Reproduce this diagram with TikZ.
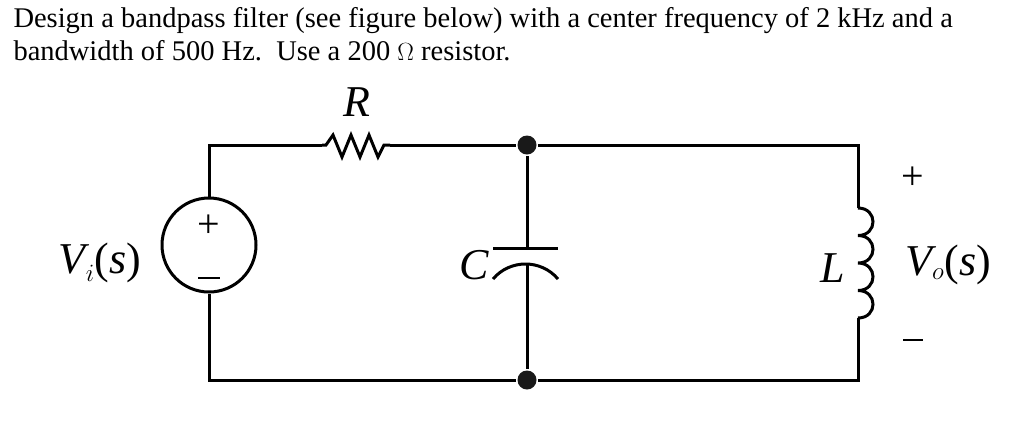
\documentclass[tikz,border=0pt]{standalone}
\usepackage{fontspec}
\setmainfont{Liberation Serif}
\begin{document}
\begin{tikzpicture}[x=1pt,y=-1pt,line width=3pt,
  lbl/.style={inner sep=0pt,font=\fontsize{44}{46}\selectfont},
  sgn/.style={inner sep=0pt,font=\fontsize{40}{40}\selectfont},
  dot/.style={circle,fill=black!90,inner sep=0pt,minimum size=19pt},
  hdr/.style={inner sep=0pt,anchor=base west,font=\fontsize{28.5}{30}\selectfont}]
\useasboundingbox (0,0) rectangle (1024,440);
\node[hdr] (t1) at (12,27) {Design a bandpass filter (see figure below) with a center frequency of 2 kHz and a};
\node[hdr] (t2) at (12,60) {bandwidth of 500 Hz.\ \ Use a 200 $\Omega$ resistor.};
% coordinates
\coordinate (tl) at (209,145);
\coordinate (bl) at (209,380);
\coordinate (r1) at (322,145);
\coordinate (r2) at (390,145);
\coordinate (tr) at (858,145);
\coordinate (br) at (858,380);
\coordinate (l1) at (858,208);
\coordinate (l2) at (858,318);
\coordinate (c1) at (527,248);
\coordinate (c2) at (527,265);
\node[dot] (dt) at (527,145) {};
\node[dot] (db) at (527,380) {};
\node[circle,draw,minimum size=94pt,inner sep=0pt] (src) at (209,245) {};
\node[sgn] (sp) at (209,226) {+};
\node[sgn] (sm) at (209,278) {\rule{22pt}{2.5pt}};
% wires
\draw (src.north) -- (tl) -- (r1);
\draw (r1) -- (326,145) -- (333,135) -- (342,157) -- (351,135) -- (360,157) -- (369,135) -- (378,157) -- (384,145) -- (r2);
\draw (r2) -- (dt) -- (tr) -- (l1);
\draw (l1) .. controls (878,208) and (878,235.5) .. (858,235.5)
           .. controls (878,235.5) and (878,263) .. (858,263)
           .. controls (878,263) and (878,290.5) .. (858,290.5)
           .. controls (878,290.5) and (878,318) .. (858,318);
\draw (l2) -- (br) -- (db) -- (bl) -- (src.south);
\draw (dt) -- (c1);
\draw (493,248) -- (558,248);
\draw (493,279) .. controls (510,259) and (541,259) .. (558,279);
\draw (c2) -- (db);
% labels
\node[lbl] (R) at (357,102) {\textit{R}};
\node[lbl] (Vi) at (100,263) {\textit{V}$_{\!i}$(\textit{s})};
\node[lbl] (C) at (474,265) {\textit{C}};
\node[lbl] (L) at (833,268) {\textit{L}};
\node[lbl] (Vo) at (948,265) {\textit{V}$_{\!o}$(\textit{s})};
\node[sgn] (op) at (913,178) {+};
\node[sgn] (om) at (913,340) {\rule{20pt}{2.5pt}};
\end{tikzpicture}
\end{document}
